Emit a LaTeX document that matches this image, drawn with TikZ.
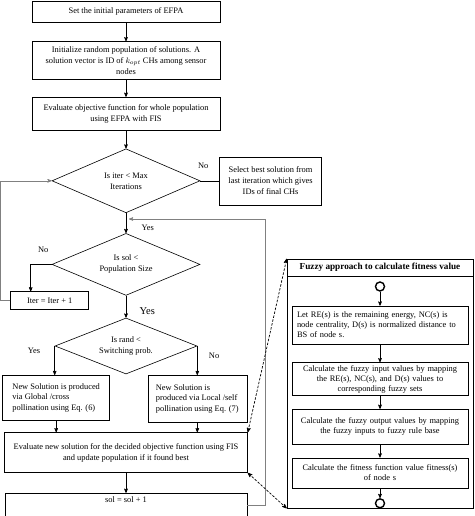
\documentclass[tikz,border=0pt]{standalone}
\usepackage{fontspec}
\setmainfont{Liberation Serif}
\usetikzlibrary{shapes.geometric, positioning, arrows}
\tikzset{node distance=18pt, % gap between two blocks, changed per block below
every edge/.style={ % arrows between the blocks
draw,->,>=stealth',line width=0.6pt},
block/.style={ % plain process box
draw, line width=0.6pt, align=center, inner sep=2pt,
font=\fontsize{8.4}{11.2}\selectfont},
leftblock/.style={ % box with text set flush left
block, align=left, inner xsep=3pt, font=\fontsize{8.4}{10.5}\selectfont},
decision/.style={ % question diamonds
diamond, draw, line width=0.6pt, align=center, aspect=2.3, inner sep=0pt,
font=\fontsize{8.4}{11}\selectfont},
lbl/.style={font=\fontsize{8.4}{9}\selectfont}, % yes / no labels
loopline/.style={draw, ->, >=stealth', line width=0.6pt, gray}, % return lines
dashlink/.style={<->, >=stealth', line width=0.7pt, dash pattern=on 2.5pt off 1.5pt},
fzpanel/.style={draw, line width=0.6pt, minimum width=186pt, minimum height=249pt},
fztitle/.style={draw, line width=0.6pt, minimum width=186pt, minimum height=17pt,
inner sep=0pt, font=\bfseries\fontsize{9.2}{10}\selectfont},
fzstep/.style={ % boxes inside the fuzzy panel
draw, line width=0.6pt, text width=166pt, inner xsep=5pt, inner ysep=2pt,
align=center, font=\fontsize{8.4}{10}\selectfont},
endpt/.style={circle, draw, line width=1.4pt, minimum size=9pt, inner sep=0pt}}

\begin{document}
\begin{tikzpicture}[x=1pt, y=1pt]
    \useasboundingbox (0,0) rectangle (474,-516);
    \clip (0,0) rectangle (474,-516);

    \node[block, minimum width=188pt, minimum height=21pt] (init) at (126,-11.5) {Set the initial parameters of EFPA};
    \node[block, minimum width=188pt, minimum height=38pt, below=19pt of init] (pop) {Initialize random population of solutions. A\\solution vector is ID of $k_{opt}$ CHs among sensor\\nodes};
    \node[block, minimum width=188pt, minimum height=33pt, below=17pt of pop] (evalpop) {Evaluate objective function for whole population\\using EFPA with FIS};
    \node[decision, minimum width=148pt, minimum height=64pt, below=18pt of evalpop] (iter) {Is iter < Max\\Iterations};
    \node[block, minimum width=102pt, minimum height=48pt, right=19pt of iter] (best) {Select best solution from\\last iteration which gives\\IDs of final CHs};
    \node[decision, minimum width=148pt, minimum height=62pt, below=20pt of iter] (sol) {Is sol <\\Population Size};
    \node[block, minimum width=78pt, minimum height=18pt, below=27pt of sol.west, xshift=-2pt] (inc) {Iter = Iter + 1};
    \node[decision, minimum width=142pt, minimum height=56pt, below=22pt of sol] (rand) {Is rand <\\Switching prob.};
    \node[leftblock, minimum width=107pt, minimum height=45pt, below=29pt of rand.west, xshift=1.5pt] (glob) {New Solution is produced\\via Global /cross\\pollination using Eq. (6)};
    \node[leftblock, minimum width=99pt, minimum height=47pt, below=29pt of rand.east] (loc) {New Solution is\\produced via Local /self\\pollination using Eq. (7)};
    \node[block, minimum width=243pt, minimum height=40pt, below=58pt of rand] (upd) {Evaluate new solution for the decided objective function using FIS\\and update population if it found best};
    \node[block, minimum width=242pt, text depth=30pt, inner sep=3pt, below=20pt of upd] (solinc) {sol = sol + 1};

    % fuzzy fitness panel
    \node[fzpanel] (fz) at (380,-383.5) {};
    \node[fztitle, below=0pt of fz.north] (fzt) {Fuzzy approach to calculate fitness value};
    \node[endpt, below=5pt of fzt] (fs) {};
    \node[fzstep, minimum height=38pt, align=left, below=14pt of fs] (f1) {\makebox[166pt][s]{Let RE(s) is the remaining energy, NC(s) is}\\\makebox[166pt][s]{node centrality, D(s) is normalized distance to}\\BS of node s.};
    \node[fzstep, minimum height=33pt, below=18pt of f1] (f2) {Calculate the fuzzy input values by mapping\\the RE(s), NC(s), and D(s) values to\\corresponding fuzzy sets};
    \node[fzstep, minimum height=35pt, below=13pt of f2] (f3) {Calculate the fuzzy output values by mapping\\the fuzzy inputs to fuzzy rule base};
    \node[fzstep, minimum height=30pt, below=13pt of f3] (f4) {Calculate the fitness function value fitness(s)\\of node s};
    \node[endpt, below=10pt of f4] (fe) {};

    \draw (init) edge (pop);
    \draw (pop) edge (evalpop);
    \draw (evalpop) edge (iter);
    \draw (iter) edge[-] node[lbl, pos=0.15, above=9pt] {No} (best);
    \draw (iter) edge node[lbl, pos=0.75, right=12pt] {Yes} (sol);
    \draw[->, >=stealth', line width=0.6pt] (sol.west) -| node[lbl, pos=0.2, above=8pt] {No} ([xshift=-19pt]inc.north);
    \draw (sol) edge node[pos=0.7, right=10pt, font=\fontsize{10.5}{12}\selectfont] {Yes} (rand);
    \draw (rand.west) edge node[lbl, pos=0.17, left=11pt] {Yes} (rand.west |- glob.north);
    \draw (rand.east) edge node[lbl, pos=0.35, right=8pt] {No} (rand.east |- loc.north);
    \draw (glob.south) edge (glob.south |- upd.north);
    \draw (loc.south) edge (loc.south |- upd.north);
    \draw (upd) edge (solinc);

    % return lines
    \coordinate (fbturn) at (265,-219);
    \draw[loopline] ([yshift=-12pt]solinc.north east) -| (fbturn) -- ([xshift=3pt]iter.south |- fbturn);
    \draw[loopline] (inc.west) -| ([xshift=-10pt]inc.west |- iter.west) -- (iter.west);

    \draw (fs) edge (f1);
    \draw (f1) edge (f2);
    \draw (f2) edge (f3);
    \draw (f3) edge (f4);
    \draw (f4) edge (fe);

    \draw[dashlink] (upd.north east) -- (fz.north west);
    \draw[dashlink] (upd.south east) -- (fz.south west);

\end{tikzpicture}
\end{document}
